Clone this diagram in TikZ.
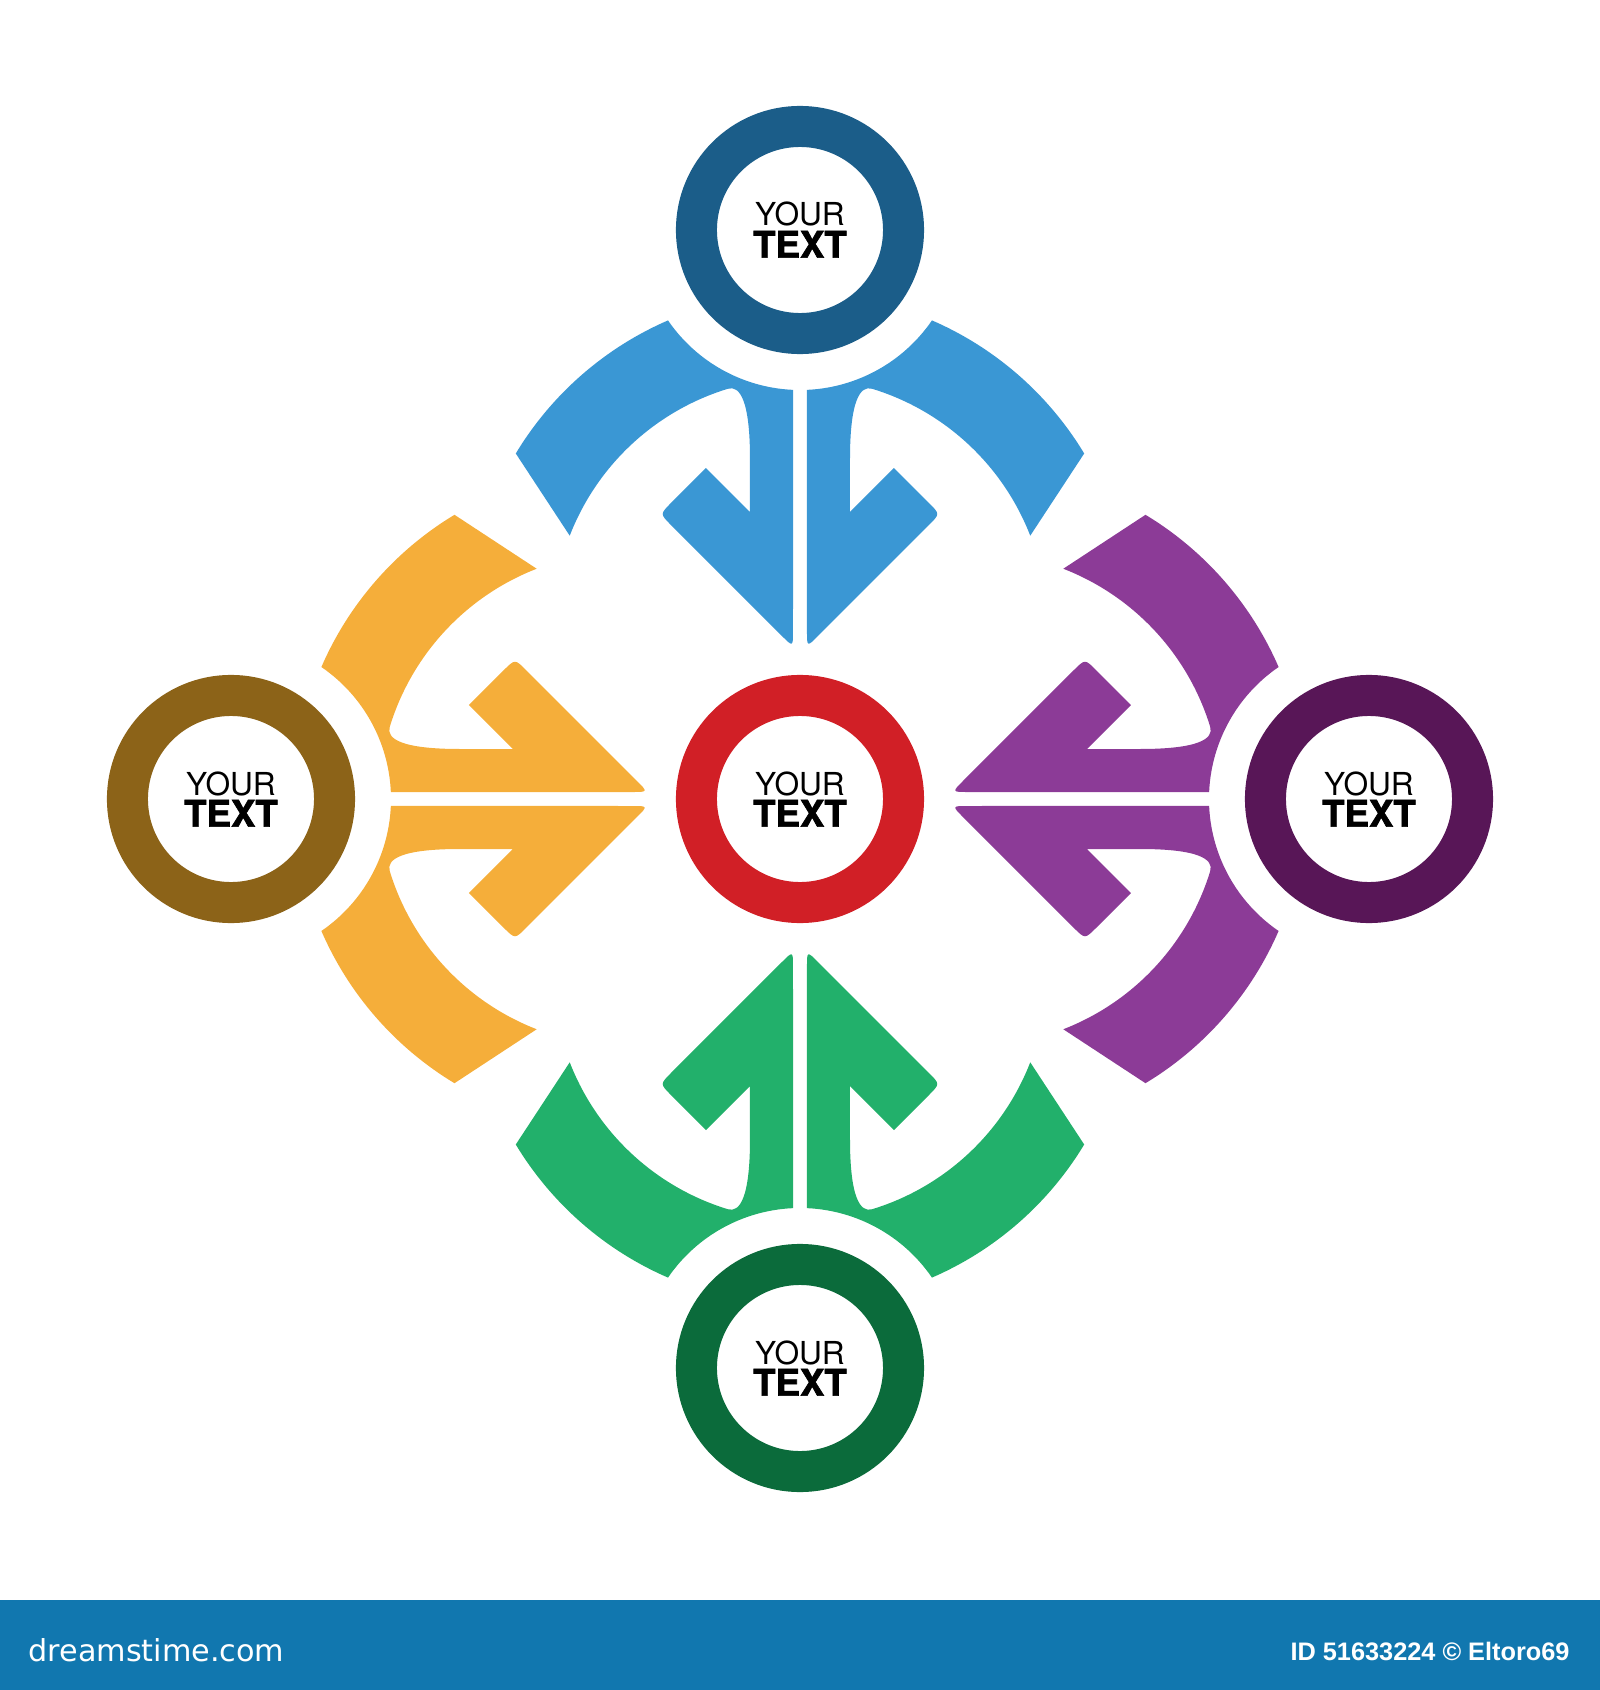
\documentclass[tikz,border=0pt]{standalone}
\usepackage{fontspec}
\setmainfont{TeX Gyre Heros}[BoldFeatures={FakeBold=1.8}]
\newfontfamily\logofont{DejaVu Sans}
\newfontfamily\creditfont{Liberation Sans}

\definecolor{ringblue}{HTML}{1B5D89}
\definecolor{arrowblue}{HTML}{3A97D4}
\definecolor{ringred}{HTML}{D11F26}
\definecolor{ringbrown}{HTML}{8C6318}
\definecolor{arroworange}{HTML}{F5AE3A}
\definecolor{ringgreen}{HTML}{0B6B3B}
\definecolor{arrowgreen}{HTML}{22B06B}
\definecolor{ringpurple}{HTML}{581657}
\definecolor{arrowpurple}{HTML}{8C3B97}
\definecolor{bannerblue}{HTML}{1177AF}

\begin{document}
\begin{tikzpicture}[x=0.01cm, y=0.01cm,
        ring/.style={circle, draw=#1, fill=white, line width=0.41cm, minimum size=2.07cm,
                inner sep=0pt, align=center, font={\fontsize{9}{9}\selectfont}}]

        \useasboundingbox (-800, -891) rectangle (800, 799);

        % one arrow group per side, two mirrored halves each
        \foreach \ang/\col in {0/arrowblue, 90/arroworange, 180/arrowgreen, 270/arrowpurple}
        {
        \foreach \side in {1, -1}
        {
        \fill[\col, rotate=\ang, xscale=\side] (-50, 287) -- (-50, 340)
                .. controls (-50, 398) and (-60, 414) .. (-72.2, 410.2)
                arc[start angle=107, end angle=158.8, radius=247]
                -- (-284.2, 345.5)
                arc[start angle=148.9, end angle=113.44, radius=332]
                arc[start angle=214.4, end angle=267.5, radius=160]
                -- (-7, 168) .. controls (-7, 152) .. (-18, 163)
                -- (-129, 274) .. controls (-140, 285) .. (-129, 296)
                -- (-94, 331) -- cycle;
        }
        }

        \node[ring=ringred] (hub) at (0, 0) {YOUR\\ \fontsize{10.4}{9}\selectfont\bfseries TEXT};
        \node[ring=ringblue] (north) at (0, 569) {YOUR\\ \fontsize{10.4}{9}\selectfont\bfseries TEXT};
        \node[ring=ringbrown] (west) at (-569, 0) {YOUR\\ \fontsize{10.4}{9}\selectfont\bfseries TEXT};
        \node[ring=ringpurple] (east) at (569, 0) {YOUR\\ \fontsize{10.4}{9}\selectfont\bfseries TEXT};
        \node[ring=ringgreen] (south) at (0, -569) {YOUR\\ \fontsize{10.4}{9}\selectfont\bfseries TEXT};

        \fill[bannerblue] (-800, -801) rectangle (800, -891);
        \node[anchor=west, text=white, font={\logofont\fontsize{8.6}{10}\selectfont}] (site) at (-784, -851) {dreamstime.com};
        \node[anchor=east, text=white, font={\creditfont\bfseries\fontsize{7.2}{8}\selectfont}] (credit) at (782, -852) {ID 51633224 © Eltoro69};

\end{tikzpicture}
\end{document}
